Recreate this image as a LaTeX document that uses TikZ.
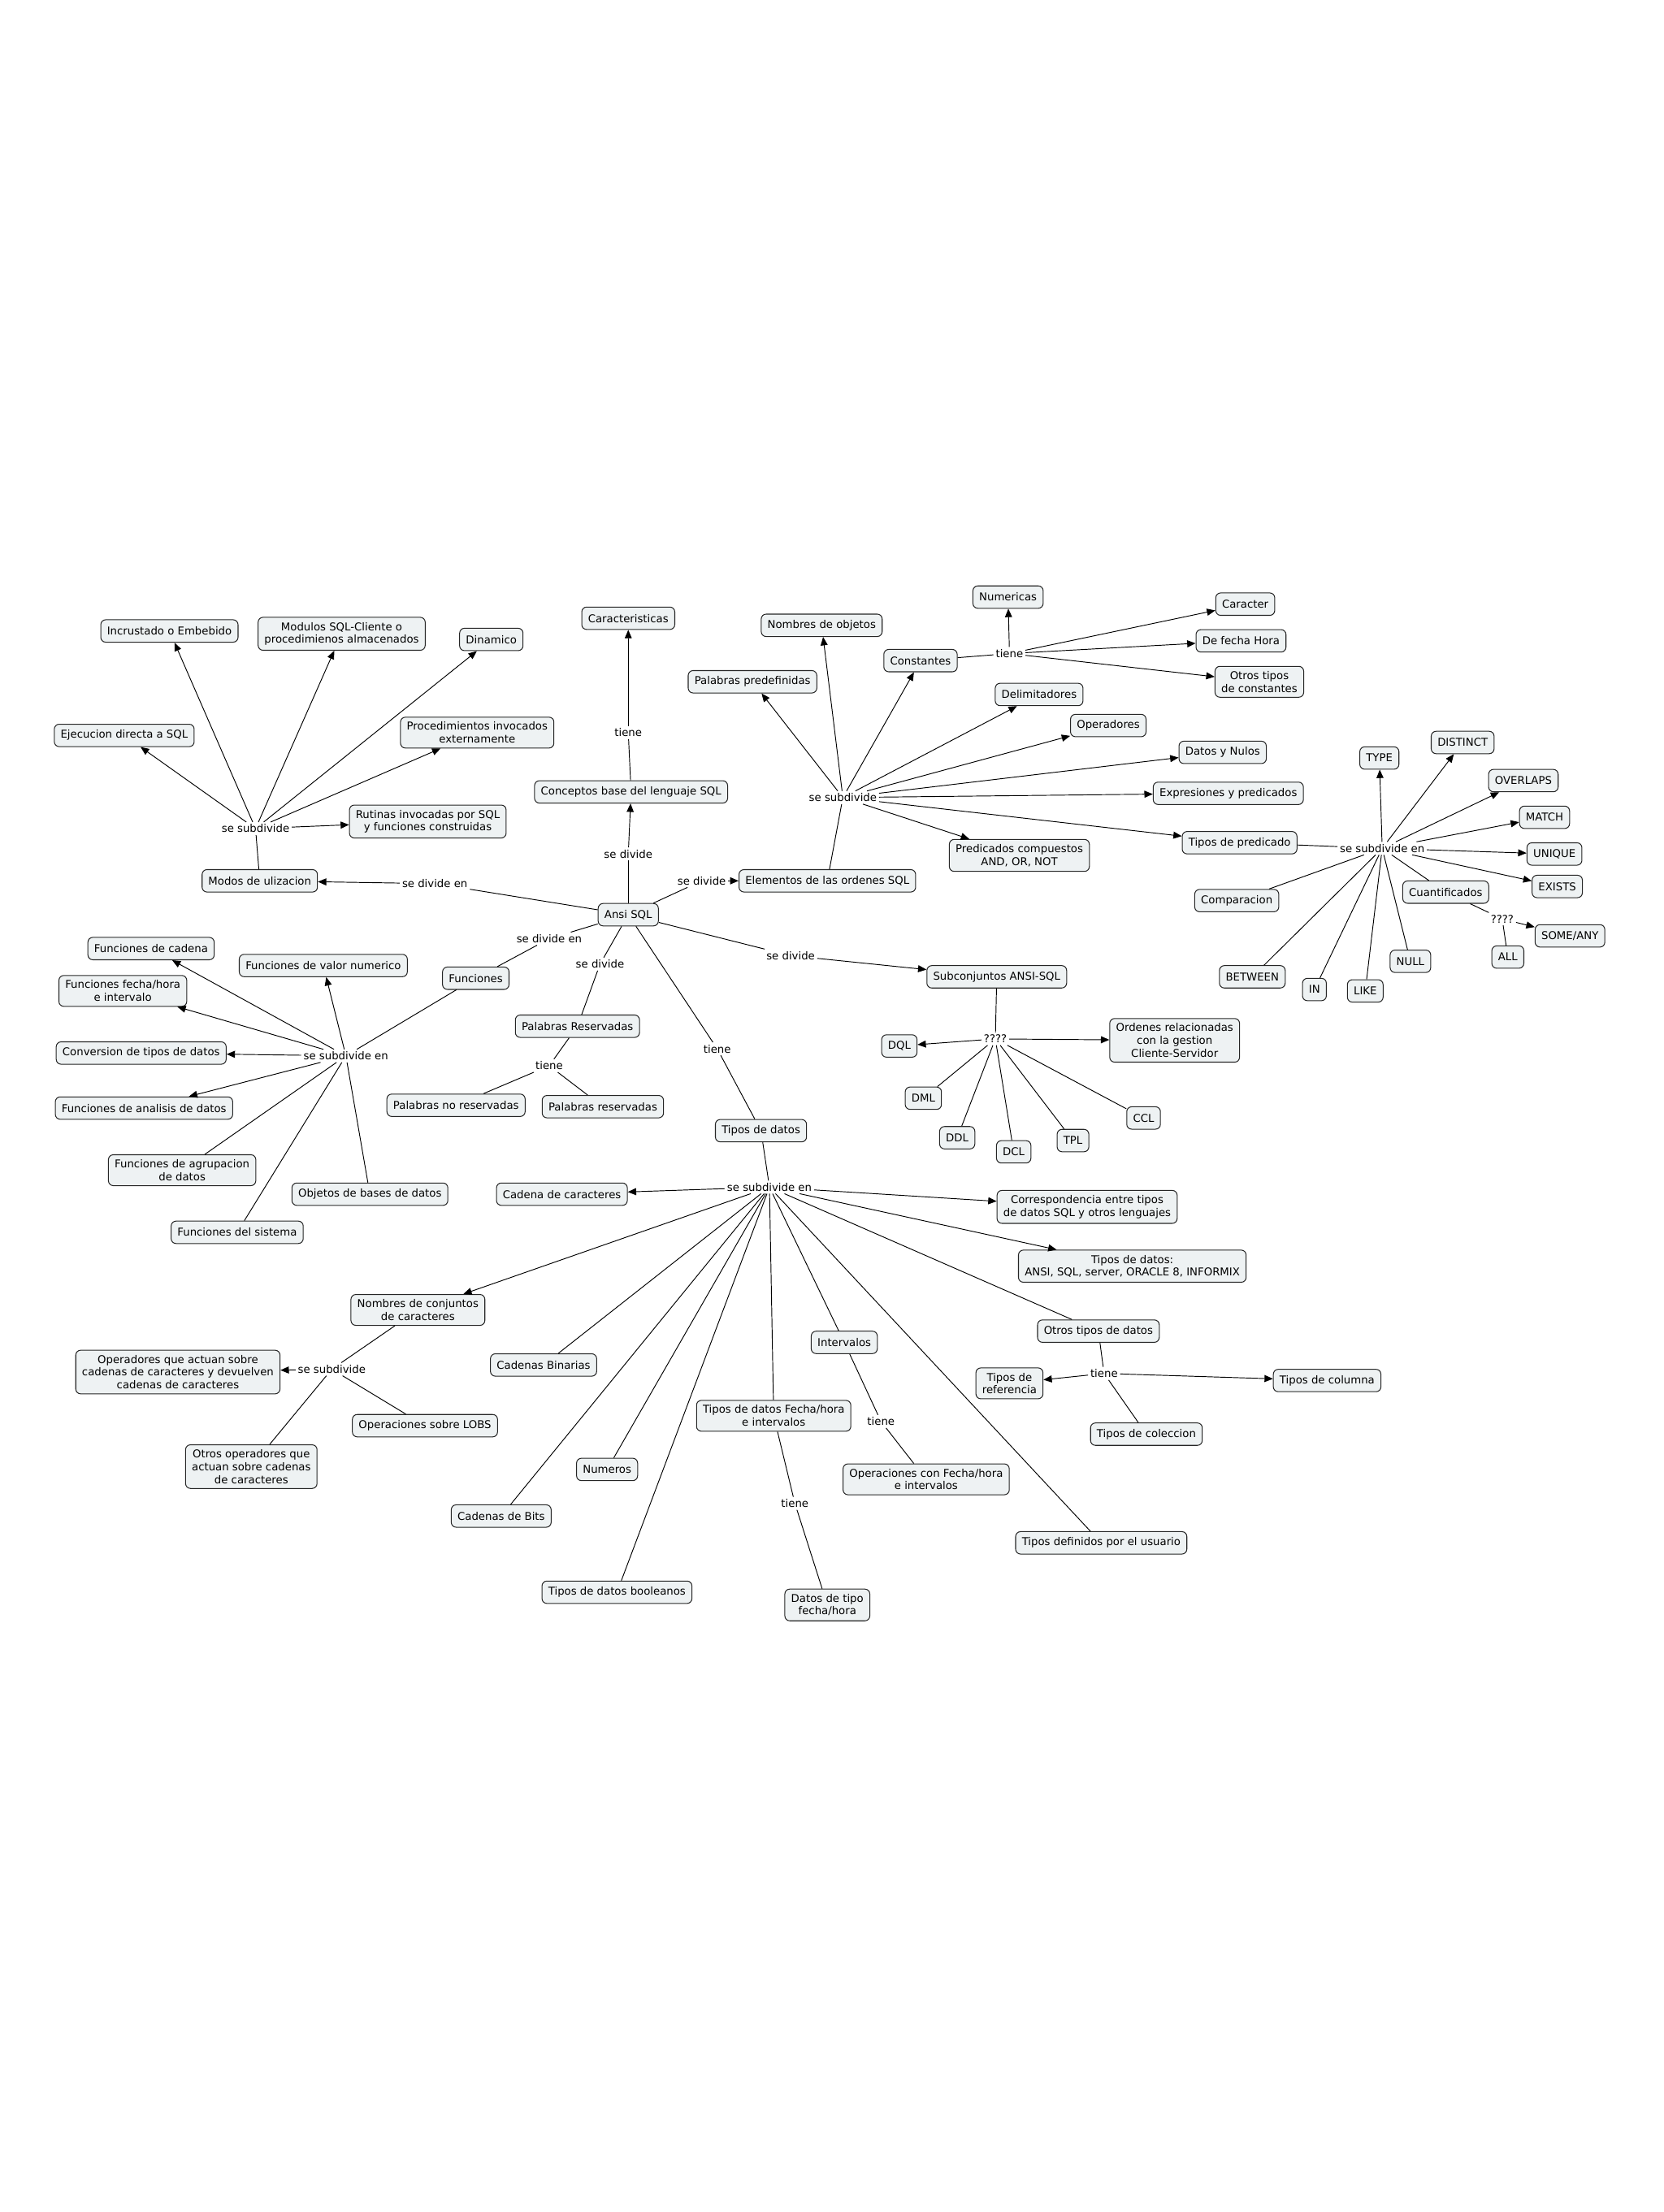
\documentclass[tikz,border=0pt]{standalone}
\usepackage{fontspec}
\setmainfont{DejaVu Sans}
\usetikzlibrary{arrows.meta}
\definecolor{cmapfill}{RGB}{238,242,243}
\tikzstyle{conceptbox} = [draw=black!85, fill=cmapfill, line width=0.6pt,
    rectangle, rounded corners=3.5pt, inner xsep=4.5pt, inner ysep=3.5pt,
    minimum height=16pt, align=center, font=\fontsize{7.7}{9.1}\selectfont]
\tikzstyle{linkphrase} = [inner sep=1.5pt, fill=white, font=\fontsize{7.7}{9.1}\selectfont]
\tikzstyle{conn} = [line width=0.55pt, black]
\tikzstyle{connarrow} = [conn, -{Triangle[length=6pt,width=5pt]}]

\begin{document}
\begin{tikzpicture}[x=1.008pt,y=-1.008pt]
    \useasboundingbox[fill=white] (0pt,0pt) rectangle (1188pt,-1579.6pt);
    % Modos de ulizacion
    \node[conceptbox] (incrustado) at (120,447) {Incrustado o Embebido};
    \node[conceptbox] (modulos) at (242,449) {Modulos SQL-Cliente o\\procedimienos almacenados};
    \node[conceptbox] (dinamico) at (348,453) {Dinamico};
    \node[conceptbox] (ejecucion) at (88,521) {Ejecucion directa a SQL};
    \node[conceptbox] (procinv) at (338,519) {Procedimientos invocados\\externamente};
    \node[conceptbox] (rutinas) at (303,582) {Rutinas invocadas por SQL\\y funciones construidas};
    \node[conceptbox] (modos) at (184,624) {Modos de ulizacion};
    \node[linkphrase] (lsubmodos) at (181,587) {se subdivide};
    \node[linkphrase] (ldivmodos) at (308,626) {se divide en};
    % centro
    \node[conceptbox] (ansi) at (445,648) {Ansi SQL};
    \node[conceptbox] (caract) at (445,438) {Caracteristicas};
    \node[linkphrase] (ltienecar) at (445,519) {tiene};
    \node[conceptbox] (conceptos) at (447,561) {Conceptos base del lenguaje SQL};
    \node[linkphrase] (ldivcon) at (445,605) {se divide};
    \node[linkphrase] (ldivele) at (497,624) {se divide};
    \node[conceptbox] (elementos) at (586,624) {Elementos de las ordenes SQL};
    % Elementos de las ordenes SQL
    \node[linkphrase] (lsubele) at (597,565) {se subdivide};
    \node[conceptbox] (nombres) at (582,443) {Nombres de objetos};
    \node[conceptbox] (palpre) at (533,483) {Palabras predefinidas};
    \node[conceptbox] (constantes) at (652,468) {Constantes};
    \node[linkphrase] (ltienecons) at (715,463) {tiene};
    \node[conceptbox] (numericas) at (714,423) {Numericas};
    \node[conceptbox] (caracter) at (882,428) {Caracter};
    \node[conceptbox] (fechahora) at (879,454) {De fecha Hora};
    \node[conceptbox] (otrascons) at (892,483) {Otros tipos\\de constantes};
    \node[conceptbox] (delim) at (736,492) {Delimitadores};
    \node[conceptbox] (operadores) at (785,514) {Operadores};
    \node[conceptbox] (datosnulos) at (866,533) {Datos y Nulos};
    \node[conceptbox] (expres) at (870,562) {Expresiones y predicados};
    \node[conceptbox] (tipospred) at (878,597) {Tipos de predicado};
    \node[conceptbox] (predcomp) at (722,606) {Predicados compuestos\\AND, OR, NOT};
    % Tipos de predicado
    \node[linkphrase] (lsubpred) at (979,601) {se subdivide en};
    \node[conceptbox] (ptype) at (977,537) {TYPE};
    \node[conceptbox] (pdistinct) at (1036,526) {DISTINCT};
    \node[conceptbox] (poverlaps) at (1079,553) {OVERLAPS};
    \node[conceptbox] (pmatch) at (1094,579) {MATCH};
    \node[conceptbox] (punique) at (1101,605) {UNIQUE};
    \node[conceptbox] (pexists) at (1103,628) {EXISTS};
    \node[conceptbox] (pcomp) at (876,638) {Comparacion};
    \node[conceptbox] (pcuant) at (1024,632) {Cuantificados};
    \node[linkphrase] (lqcuant) at (1064,651) {????};
    \node[conceptbox] (psome) at (1112,663) {SOME/ANY};
    \node[conceptbox] (pall) at (1068,678) {ALL};
    \node[conceptbox] (pnull) at (999,681) {NULL};
    \node[conceptbox] (pbetween) at (887,692) {BETWEEN};
    \node[conceptbox] (pin) at (931,701) {IN};
    \node[conceptbox] (plike) at (967,702) {LIKE};
    % Funciones
    \node[conceptbox] (fcadena) at (107,672) {Funciones de cadena};
    \node[conceptbox] (fvalor) at (229,684) {Funciones de valor numerico};
    \node[conceptbox] (ffecha) at (87,702) {Funciones fecha/hora\\e intervalo};
    \node[conceptbox] (funciones) at (337,693) {Funciones};
    \node[linkphrase] (lsubfun) at (245,748) {se subdivide en};
    \node[conceptbox] (fconv) at (100,746) {Conversion de tipos de datos};
    \node[conceptbox] (fanalisis) at (102,785) {Funciones de analisis de datos};
    \node[conceptbox] (fagrup) at (129,829) {Funciones de agrupacion\\de datos};
    \node[conceptbox] (fobjetos) at (262,846) {Objetos de bases de datos};
    \node[conceptbox] (fsistema) at (168,873) {Funciones del sistema};
    \node[linkphrase] (ldivfun) at (389,665) {se divide en};
    % Palabras Reservadas
    \node[linkphrase] (ldivpal) at (425,683) {se divide};
    \node[conceptbox] (palres) at (409,727) {Palabras Reservadas};
    \node[linkphrase] (ltienepal) at (389,755) {tiene};
    \node[conceptbox] (palnores) at (323,783) {Palabras no reservadas};
    \node[conceptbox] (palsires) at (427,784) {Palabras reservadas};
    % Subconjuntos ANSI-SQL
    \node[linkphrase] (ldivsub) at (560,677) {se divide};
    \node[conceptbox] (subconj) at (706,692) {Subconjuntos ANSI-SQL};
    \node[linkphrase] (lqsub) at (705,736) {????};
    \node[conceptbox] (sdql) at (637,741) {DQL};
    \node[conceptbox] (ordenes) at (832,737) {Ordenes relacionadas\\con la gestion\\Cliente-Servidor};
    \node[conceptbox] (sdml) at (654,778) {DML};
    \node[conceptbox] (sddl) at (678,806) {DDL};
    \node[conceptbox] (sdcl) at (718,816) {DCL};
    \node[conceptbox] (stpl) at (760,808) {TPL};
    \node[conceptbox] (sccl) at (810,792) {CCL};
    % Tipos de datos
    \node[linkphrase] (ltienetip) at (508,743) {tiene};
    \node[conceptbox] (tipos) at (539,801) {Tipos de datos};
    \node[linkphrase] (lsubtip) at (545,841) {se subdivide en};
    \node[conceptbox] (tcadena) at (398,846) {Cadena de caracteres};
    \node[conceptbox] (tcorresp) at (770,855) {Correspondencia entre tipos\\de datos SQL y otros lenguajes};
    \node[conceptbox] (tansi) at (802,897) {Tipos de datos:\\ANSI, SQL, server, ORACLE 8, INFORMIX};
    \node[conceptbox] (tnombres) at (296,928) {Nombres de conjuntos\\de caracteres};
    \node[conceptbox] (tbinarias) at (385,967) {Cadenas Binarias};
    \node[conceptbox] (tinterv) at (598,951) {Intervalos};
    \node[conceptbox] (totros) at (778,943) {Otros tipos de datos};
    \node[conceptbox] (topcad) at (126,972) {Operadores que actuan sobre\\cadenas de caracteres y devuelven\\cadenas de caracteres};
    \node[linkphrase] (lsubnom) at (235,970) {se subdivide};
    \node[conceptbox] (tref) at (715,980) {Tipos de\\referencia};
    \node[linkphrase] (ltieneotr) at (782,973) {tiene};
    \node[conceptbox] (tcolumna) at (940,978) {Tipos de columna};
    \node[conceptbox] (tlobs) at (301,1010) {Operaciones sobre LOBS};
    \node[conceptbox] (tfecha) at (548,1003) {Tipos de datos Fecha/hora\\e intervalos};
    \node[linkphrase] (ltieneint) at (624,1007) {tiene};
    \node[conceptbox] (tcoleccion) at (812,1016) {Tipos de coleccion};
    \node[conceptbox] (totrosop) at (178,1039) {Otros operadores que\\actuan sobre cadenas\\de caracteres};
    \node[conceptbox] (tnumeros) at (430,1041) {Numeros};
    \node[conceptbox] (topfecha) at (656,1048) {Operaciones con Fecha/hora\\e intervalos};
    \node[linkphrase] (ltienefec) at (563,1065) {tiene};
    \node[conceptbox] (tbits) at (355,1074) {Cadenas de Bits};
    \node[conceptbox] (tusuario) at (780,1093) {Tipos definidos por el usuario};
    \node[conceptbox] (tbool) at (437,1128) {Tipos de datos booleanos};
    \node[conceptbox] (tdatfec) at (586,1137) {Datos de tipo\\fecha/hora};

    % conectores
    \draw[conn] (modos) -- (lsubmodos);
    \foreach \t in {incrustado,modulos,dinamico,ejecucion,procinv,rutinas}
        \draw[connarrow] (lsubmodos) -- (\t);
    \draw[conn] (ansi) -- (ldivmodos);
    \draw[connarrow] (ldivmodos) -- (modos);
    \draw[conn] (ansi) -- (ldivcon);
    \draw[connarrow] (ldivcon) -- (conceptos);
    \draw[conn] (conceptos) -- (ltienecar);
    \draw[connarrow] (ltienecar) -- (caract);
    \draw[conn] (ansi) -- (ldivele);
    \draw[connarrow] (ldivele) -- (elementos);
    \draw[conn] (elementos) -- (lsubele);
    \foreach \t in {palpre,nombres,constantes,delim,operadores,datosnulos,expres,tipospred,predcomp}
        \draw[connarrow] (lsubele) -- (\t);
    \draw[conn] (constantes) -- (ltienecons);
    \foreach \t in {numericas,caracter,fechahora,otrascons}
        \draw[connarrow] (ltienecons) -- (\t);
    \draw[conn] (tipospred) -- (lsubpred);
    \foreach \t in {ptype,pdistinct,poverlaps,pmatch,punique,pexists}
        \draw[connarrow] (lsubpred) -- (\t);
    \foreach \t in {pcomp,pbetween,pin,plike,pnull,pcuant}
        \draw[conn] (lsubpred) -- (\t);
    \draw[conn] (pcuant) -- (lqcuant);
    \draw[connarrow] (lqcuant) -- (psome);
    \draw[conn] (lqcuant) -- (pall);
    \draw[conn] (ansi) -- (ldivfun) -- (funciones);
    \draw[conn] (funciones) -- (lsubfun);
    \foreach \t in {fcadena,fvalor,ffecha,fconv,fanalisis}
        \draw[connarrow] (lsubfun) -- (\t);
    \foreach \t in {fagrup,fobjetos,fsistema}
        \draw[conn] (lsubfun) -- (\t);
    \draw[conn] (ansi) -- (ldivpal) -- (palres);
    \draw[conn] (palres) -- (ltienepal);
    \draw[conn] (ltienepal) -- (palnores);
    \draw[conn] (ltienepal) -- (palsires);
    \draw[conn] (ansi) -- (ldivsub);
    \draw[connarrow] (ldivsub) -- (subconj);
    \draw[conn] (subconj) -- (lqsub);
    \draw[connarrow] (lqsub) -- (sdql);
    \draw[connarrow] (lqsub) -- (ordenes);
    \foreach \t in {sdml,sddl,sdcl,stpl,sccl}
        \draw[conn] (lqsub) -- (\t);
    \draw[conn] (ansi) -- (ltienetip) -- (tipos);
    \draw[conn] (tipos) -- (lsubtip);
    \foreach \t in {tcadena,tcorresp,tansi,tnombres}
        \draw[connarrow] (lsubtip) -- (\t);
    \foreach \t in {totros,tbinarias,tinterv,tfecha,tnumeros,tbits,tbool,tusuario}
        \draw[conn] (lsubtip) -- (\t);
    \draw[conn] (tnombres) -- (lsubnom);
    \draw[connarrow] (lsubnom) -- (topcad);
    \draw[conn] (lsubnom) -- (tlobs);
    \draw[conn] (lsubnom) -- (totrosop);
    \draw[conn] (tinterv) -- (ltieneint) -- (topfecha);
    \draw[conn] (tfecha) -- (ltienefec) -- (tdatfec);
    \draw[conn] (totros) -- (ltieneotr);
    \draw[connarrow] (ltieneotr) -- (tref);
    \draw[connarrow] (ltieneotr) -- (tcolumna);
    \draw[conn] (ltieneotr) -- (tcoleccion);
\end{tikzpicture}
\end{document}
